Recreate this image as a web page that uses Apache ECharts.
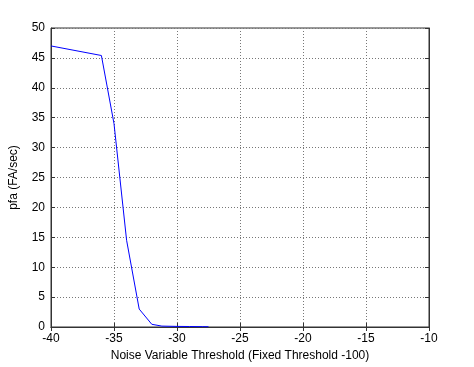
<!DOCTYPE html>
<html>
<head>
<meta charset="utf-8">
<script src="https://cdn.jsdelivr.net/npm/echarts@6/dist/echarts.min.js"></script>
<style>
html, body { margin: 0; padding: 0; background: #fff; }
#main { width: 474px; height: 367px; }
</style>
</head>
<body>
<div id="main"></div>
<script>
// threshold (x) and false alarm rate (y)
var thresholds = [-40, -36, -35, -34, -33, -32, -31.2, -30, -29, -28, -27.5];
var pfaValues  = [47, 45.4, 34, 14.5, 3, 0.45, 0.15, 0.1, 0.08, 0.06, 0.05];

var chart = echarts.init(document.getElementById('main'));

var lineData = [];
for (var i = 0; i < thresholds.length; i++) {
    lineData.push([thresholds[i], pfaValues[i]]);
}

var font = 'Liberation Sans, Arial, sans-serif';
var axisColor = '#333';
var gridLine = { show: true, lineStyle: { color: '#777', type: [1, 2], width: 1 } };

var option = {
    animation: false,
    backgroundColor: '#fff',
    textStyle: { fontFamily: font },
    grid: {
        left: 49, top: 28, right: 45, bottom: 40,
        show: true,
        borderColor: axisColor,
        borderWidth: 1
    },
    xAxis: [{
        type: 'value',
        min: -40, max: -10, interval: 5,
        name: 'Noise Variable Threshold (Fixed Threshold -100)',
        nameLocation: 'middle',
        nameGap: 22,
        nameTextStyle: { color: '#000', fontSize: 12, fontFamily: font },
        axisLine: { show: true, onZero: false, lineStyle: { color: axisColor } },
        axisTick: { show: true, inside: true, length: 4, lineStyle: { color: axisColor } },
        axisLabel: { color: '#000', fontSize: 12, margin: 6, fontFamily: font },
        splitLine: gridLine
    }, {
        type: 'value',
        position: 'top',
        min: -40, max: -10, interval: 5,
        axisLine: { show: true, lineStyle: { color: axisColor } },
        axisTick: { show: true, inside: true, length: 4, lineStyle: { color: axisColor } },
        axisLabel: { show: false },
        splitLine: { show: false }
    }],
    yAxis: [{
        type: 'value',
        min: 0, max: 50, interval: 5,
        name: 'pfa (FA/sec)',
        nameLocation: 'middle',
        nameGap: 31,
        nameTextStyle: { color: '#000', fontSize: 12, fontFamily: font },
        axisLine: { show: true, lineStyle: { color: axisColor } },
        axisTick: { show: true, inside: true, length: 4, lineStyle: { color: axisColor } },
        axisLabel: { color: '#000', fontSize: 12, margin: 6, fontFamily: font },
        splitLine: gridLine
    }, {
        type: 'value',
        position: 'right',
        min: 0, max: 50, interval: 5,
        axisLine: { show: true, lineStyle: { color: axisColor } },
        axisTick: { show: true, inside: true, length: 4, lineStyle: { color: axisColor } },
        axisLabel: { show: false },
        splitLine: { show: false }
    }],
    series: [{
        type: 'line',
        data: lineData,
        showSymbol: false,
        lineStyle: { color: '#0000ff', width: 1 },
        itemStyle: { color: '#0000ff' }
    }]
};

chart.setOption(option);
</script>
</body>
</html>
